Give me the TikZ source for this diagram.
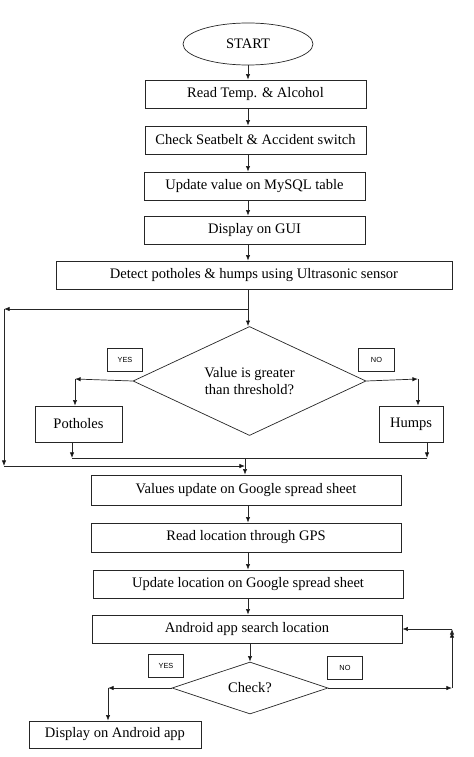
\documentclass[tikz,border=0pt]{standalone}
\usepackage{fontspec}
\setmainfont{Liberation Serif}
\newfontfamily\lblfont{Liberation Sans}
\usetikzlibrary{shapes.geometric,arrows.meta}
\begin{document}
\begin{tikzpicture}[x=0.3mm,y=-0.3mm,>={Latex[length=4.8pt,width=3.8pt]}]
		\tikzstyle{blk}=[rectangle,draw=black!85,line width=0.6pt,inner sep=0pt,font=\fontsize{12.4}{14.5}\selectfont]
		\tikzstyle{dec}=[diamond,draw=black!85,line width=0.6pt,inner sep=0pt,aspect=2,align=center,font=\fontsize{12.4}{14.5}\selectfont]
		\tikzstyle{tag}=[rectangle,draw=black!85,line width=0.6pt,inner sep=0pt,minimum width=10.6mm,minimum height=7mm,font=\lblfont\fontsize{6.3}{7}\selectfont]
		\tikzstyle{flow}=[->,draw=black!85,line width=0.6pt]
		\useasboundingbox (0,0) rectangle (474,757);

		\node[ellipse,draw=black!85,line width=0.6pt,minimum width=39mm,minimum height=12.6mm,font=\fontsize{12.4}{14.5}\selectfont] (start) at (248,44) {START};
		\node[blk,minimum width=66.3mm,minimum height=8.4mm] (read)   at (255.5,94)  {Read Temp. \& Alcohol};
		\node[blk,minimum width=66.3mm,minimum height=8.4mm] (belt)   at (255.5,140) {Check Seatbelt \& Accident switch};
		\node[blk,minimum width=66.3mm,minimum height=8.4mm] (mysql)  at (254.5,186) {Update value on MySQL table};
		\node[blk,minimum width=66.3mm,minimum height=8.4mm] (gui)    at (254.5,230) {Display on GUI};
		\node[blk,minimum width=118.8mm,minimum height=8.4mm] (detect) at (254,275)  {Detect potholes \& humps using Ultrasonic sensor};
		\node[dec,minimum width=69.9mm,minimum height=32.7mm] (thresh) at (249.5,381) {Value is greater\\than threshold?};
		\node[tag] (yes1) at (125,360)   {YES};
		\node[tag] (no1)  at (376.5,360) {NO};
		\node[blk,minimum width=26.1mm,minimum height=10.8mm] (potholes) at (78.5,424) {Potholes};
		\node[blk,minimum width=19.2mm,minimum height=10.8mm] (humps)    at (411,424)  {Humps};
		\node[blk,minimum width=93mm,minimum height=9mm]   (values)  at (246,490)   {Values update on Google spread sheet};
		\node[blk,minimum width=93mm,minimum height=8.7mm] (gps)     at (246,537.5) {Read location through GPS};
		\node[blk,minimum width=93mm,minimum height=8.4mm] (sheet)   at (248,584)   {Update location on Google spread sheet};
		\node[blk,minimum width=93mm,minimum height=8.4mm] (android) at (247,629)   {Android app search location};
		\node[dec,aspect=3,minimum width=46.8mm,minimum height=15.6mm] (check) at (250,688) {Check?};
		\node[tag] (yes2) at (166,666) {YES};
		\node[tag] (no2)  at (345,668) {NO};
		\node[blk,minimum width=51.6mm,minimum height=8.1mm] (display) at (115,734.5) {Display on Android app};

		\coordinate (j1)    at (248,309);
		\coordinate (loopL) at (4,309);
		\coordinate (loopB) at (4,466);
		\coordinate (j2)    at (245,466);
		\coordinate (yesL)  at (75,379);
		\coordinate (noR)   at (418,379);
		\coordinate (merL)  at (72,458);
		\coordinate (merR)  at (427,458);
		\coordinate (merM)  at (245,458);
		\coordinate (yesD)  at (108,688);
		\coordinate (noD)   at (452,688);
		\coordinate (noU)   at (452,632);
		\coordinate (noB)   at (452,629);

		\path[flow]
		(start.south) edge (start.south |- read.north)
		(read.south -| start) edge (belt.north -| start)
		(belt.south -| start) edge (mysql.north -| start)
		(mysql.south -| start) edge (gui.north -| start)
		(gui.south -| start) edge (detect.north -| start)
		(detect.south -| j1) edge (thresh.north -| j1)
		(j1) edge (loopL)
		(loopL) edge (loopB)
		(loopB) edge (j2)
		(thresh.west) edge (yesL)
		(yesL) edge (yesL |- potholes.north)
		(thresh.east) edge (noR)
		(noR) edge (noR |- humps.north)
		(potholes.south -| merL) edge (merL)
		(humps.south -| merR) edge (merR)
		(merM) edge (values.north -| merM)
		(values.south -| sheet) edge (gps.north -| sheet)
		(gps.south -| sheet) edge (sheet.north)
		(sheet.south) edge (android.north -| sheet)
		(android.south -| check) edge (check.north)
		(check.west) edge (yesD)
		(yesD) edge (yesD |- display.north)
		(check.east) edge (noD)
		(noD) edge (noU)
		(noB) edge (android.east)
		;
		\draw[draw=black!85,line width=0.6pt] (merL) -- (merR);
		\end{tikzpicture}
\end{document}
